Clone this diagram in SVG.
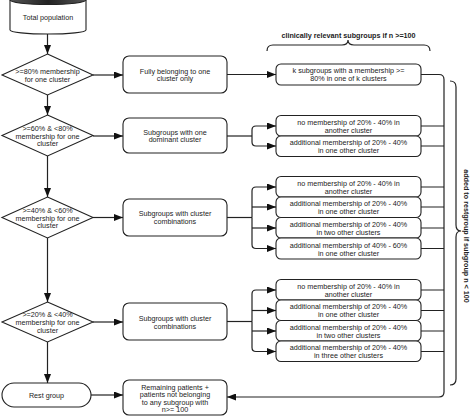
<svg xmlns="http://www.w3.org/2000/svg" width="474" height="416" viewBox="0 0 474 416">
<defs>
<style>
.n{fill:#fff;stroke:#222;stroke-width:1.1}
.t{font-family:"Liberation Sans",Arial,sans-serif;font-size:7.2px;fill:#222;text-anchor:middle}
.b{font-weight:bold}
.c{fill:none;stroke:#222;stroke-width:1.2}
.a{marker-end:url(#ah)}
</style>
<marker id="ah" markerWidth="9" markerHeight="7" refX="9" refY="3.5" orient="auto" markerUnits="userSpaceOnUse">
<path d="M0,0 L9,3.5 L0,7 z" fill="#111"/>
</marker>
<linearGradient id="cyl" x1="0" y1="0" x2="1" y2="0">
<stop offset="0" stop-color="#555"/><stop offset="0.5" stop-color="#222"/><stop offset="1" stop-color="#555"/>
</linearGradient>
</defs>
<rect width="474" height="416" fill="#fff"/>

<g id="connectors">
<path class="c a" d="M47.5,34 L47.5,54"/>
<path class="c a" d="M47.5,95 L47.5,115"/>
<path class="c a" d="M47.5,156 L47.5,197"/>
<path class="c a" d="M47.5,238 L47.5,302"/>
<path class="c a" d="M47.5,342 L47.5,383"/>
<path class="c a" d="M93,75 L123,75"/>
<path class="c a" d="M93,136 L123,136"/>
<path class="c a" d="M93,217.5 L123,217.5"/>
<path class="c a" d="M93,322 L123,322"/>
<path class="c a" d="M91,395 L123,395"/>
<path class="c a" d="M227,74.5 L276,74.5"/>
<path class="c" d="M227,136 L252,136"/>
<path class="c a" d="M252,136 L252,130 Q252,126 256,126 L276,126"/>
<path class="c a" d="M252,136 L252,142 Q252,146 256,146 L276,146"/>
<path class="c" d="M227,217.5 L252,217.5"/>
<path class="c a" d="M252,217.5 L252,191 Q252,187 256,187 L276,187"/>
<path class="c a" d="M252,207 L276,207"/>
<path class="c a" d="M252,228 L276,228"/>
<path class="c a" d="M252,217.5 L252,244.5 Q252,248.5 256,248.5 L276,248.5"/>
<path class="c" d="M227,321.5 L252,321.5"/>
<path class="c a" d="M252,321.5 L252,294 Q252,290 256,290 L276,290"/>
<path class="c a" d="M252,310.5 L276,310.5"/>
<path class="c a" d="M252,331 L276,331"/>
<path class="c a" d="M252,321.5 L252,347.5 Q252,351.5 256,351.5 L276,351.5"/>
<path class="c a" d="M421,74.5 L439,74.5 Q444,74.5 444,79.5 L444,392 Q444,397 439,397 L227,397"/>
<path class="c" d="M421,126 L444,126 M421,146 L444,146 M421,187 L444,187 M421,207 L444,207 M421,228 L444,228 M421,248.5 L444,248.5 M421,290 L444,290 M421,310.5 L444,310.5 M421,331 L444,331 M421,351.5 L444,351.5"/>
<path class="c" d="M267,51 Q267,45 273,45 L342,45 Q348,45 348,40 Q348,45 354,45 L424,45 Q430,45 430,51"/>
<path class="c" d="M450,81 Q456,81 456,87 L456,225 Q456,231 461,231 Q456,231 456,237 L456,379 Q456,385 450,385"/>
</g>

<g id="total">
<path class="n" d="M10,0 L10,30 A38,4 0 0 0 86,30 L86,0"/>
<ellipse cx="48" cy="0" rx="38" ry="4.5" fill="url(#cyl)" stroke="#222" stroke-width="1.1"/>
<text class="t" x="48" y="19.5">Total population</text>
</g>

<g id="d1">
<polygon class="n" points="47.5,54 93,75 47.5,95 2,75"/>
<text class="t" x="47.5" y="73.5">&gt;=80% membership</text>
<text class="t" x="47.5" y="81.5">for one cluster</text>
</g>
<g id="d2">
<polygon class="n" points="47.5,115 93,135.5 47.5,156 2,135.5"/>
<text class="t" x="47.5" y="130.5">&gt;=60% &amp; &lt;80%</text>
<text class="t" x="47.5" y="138.5">membership for one</text>
<text class="t" x="47.5" y="146">cluster</text>
</g>
<g id="d3">
<polygon class="n" points="47.5,197 93,217.5 47.5,238 2,217.5"/>
<text class="t" x="47.5" y="212.5">&gt;=40% &amp; &lt;60%</text>
<text class="t" x="47.5" y="220.5">membership for one</text>
<text class="t" x="47.5" y="228">cluster</text>
</g>
<g id="d4">
<polygon class="n" points="47.5,302 93,322 47.5,342 2,322"/>
<text class="t" x="47.5" y="316.5">&gt;=20% &amp; &lt;40%</text>
<text class="t" x="47.5" y="324.5">membership for one</text>
<text class="t" x="47.5" y="332.5">cluster</text>
</g>
<g id="rest">
<rect class="n" x="2" y="383" width="89" height="24" rx="12"/>
<text class="t" x="46.5" y="397.5">Rest group</text>
</g>

<g id="b1">
<rect class="n" x="123" y="56" width="104" height="37" rx="6"/>
<text class="t" x="175" y="73.5">Fully belonging to one</text>
<text class="t" x="175" y="81">cluster only</text>
</g>
<g id="b2">
<rect class="n" x="123" y="118" width="104" height="35" rx="6"/>
<text class="t" x="175" y="134.5">Subgroups with one</text>
<text class="t" x="175" y="142">dominant cluster</text>
</g>
<g id="b3">
<rect class="n" x="123" y="199" width="104" height="37" rx="6"/>
<text class="t" x="175" y="216">Subgroups with cluster</text>
<text class="t" x="175" y="223.5">combinations</text>
</g>
<g id="b4">
<rect class="n" x="123" y="303" width="104" height="37" rx="6"/>
<text class="t" x="175" y="321">Subgroups with cluster</text>
<text class="t" x="175" y="328.5">combinations</text>
</g>
<g id="remaining">
<rect class="n" x="123" y="380" width="104" height="35" rx="6"/>
<text class="t" x="175" y="389.5">Remaining patients +</text>
<text class="t" x="175" y="397">patients not belonging</text>
<text class="t" x="175" y="404.5">to any subgroup with</text>
<text class="t" x="175" y="412">n&gt;= 100</text>
</g>

<g id="s1">
<rect class="n" x="276" y="64" width="145" height="21" rx="5"/>
<text class="t" x="348.5" y="73">k subgroups with a membership &gt;=</text>
<text class="t" x="348.5" y="81">80% in one of k clusters</text>
</g>
<g id="s2a">
<rect class="n" x="276" y="115.5" width="145" height="20.5" rx="5"/>
<text class="t" x="348.5" y="124.5">no membership of 20% - 40% in</text>
<text class="t" x="348.5" y="132.5">another cluster</text>
</g>
<g id="s2b">
<rect class="n" x="276" y="136" width="145" height="20.5" rx="5"/>
<text class="t" x="348.5" y="145">additional membership of 20% - 40%</text>
<text class="t" x="348.5" y="153">in one other cluster</text>
</g>
<g id="s3a">
<rect class="n" x="276" y="176.5" width="145" height="20.5" rx="5"/>
<text class="t" x="348.5" y="185.5">no membership of 20% - 40% in</text>
<text class="t" x="348.5" y="193.5">another cluster</text>
</g>
<g id="s3b">
<rect class="n" x="276" y="197" width="145" height="20.5" rx="5"/>
<text class="t" x="348.5" y="206">additional membership of 20% - 40%</text>
<text class="t" x="348.5" y="214">in one other cluster</text>
</g>
<g id="s3c">
<rect class="n" x="276" y="217.5" width="145" height="20.5" rx="5"/>
<text class="t" x="348.5" y="226.5">additional membership of 20% - 40%</text>
<text class="t" x="348.5" y="234.5">in two other clusters</text>
</g>
<g id="s3d">
<rect class="n" x="276" y="238" width="145" height="21" rx="5"/>
<text class="t" x="348.5" y="247.5">additional membership of 40% - 60%</text>
<text class="t" x="348.5" y="255.5">in one other cluster</text>
</g>
<g id="s4a">
<rect class="n" x="276" y="279.5" width="145" height="20.5" rx="5"/>
<text class="t" x="348.5" y="288.5">no membership of 20% - 40% in</text>
<text class="t" x="348.5" y="296.5">another cluster</text>
</g>
<g id="s4b">
<rect class="n" x="276" y="300" width="145" height="20.5" rx="5"/>
<text class="t" x="348.5" y="309">additional membership of 20% - 40%</text>
<text class="t" x="348.5" y="317">in one other cluster</text>
</g>
<g id="s4c">
<rect class="n" x="276" y="320.5" width="145" height="20.5" rx="5"/>
<text class="t" x="348.5" y="329.5">additional membership of 20% - 40%</text>
<text class="t" x="348.5" y="337.5">in two other clusters</text>
</g>
<g id="s4d">
<rect class="n" x="276" y="341" width="145" height="20.5" rx="5"/>
<text class="t" x="348.5" y="350">additional membership of 20% - 40%</text>
<text class="t" x="348.5" y="358">in three other clusters</text>
</g>

<g id="labels">
<text class="t b" x="348.5" y="37.5">clinically relevant subgroups if n &gt;=100</text>
<text class="t b" transform="translate(464,236) rotate(90)" x="0" y="0">added to restgroup if subgroup n &lt; 100</text>
</g>
</svg>
